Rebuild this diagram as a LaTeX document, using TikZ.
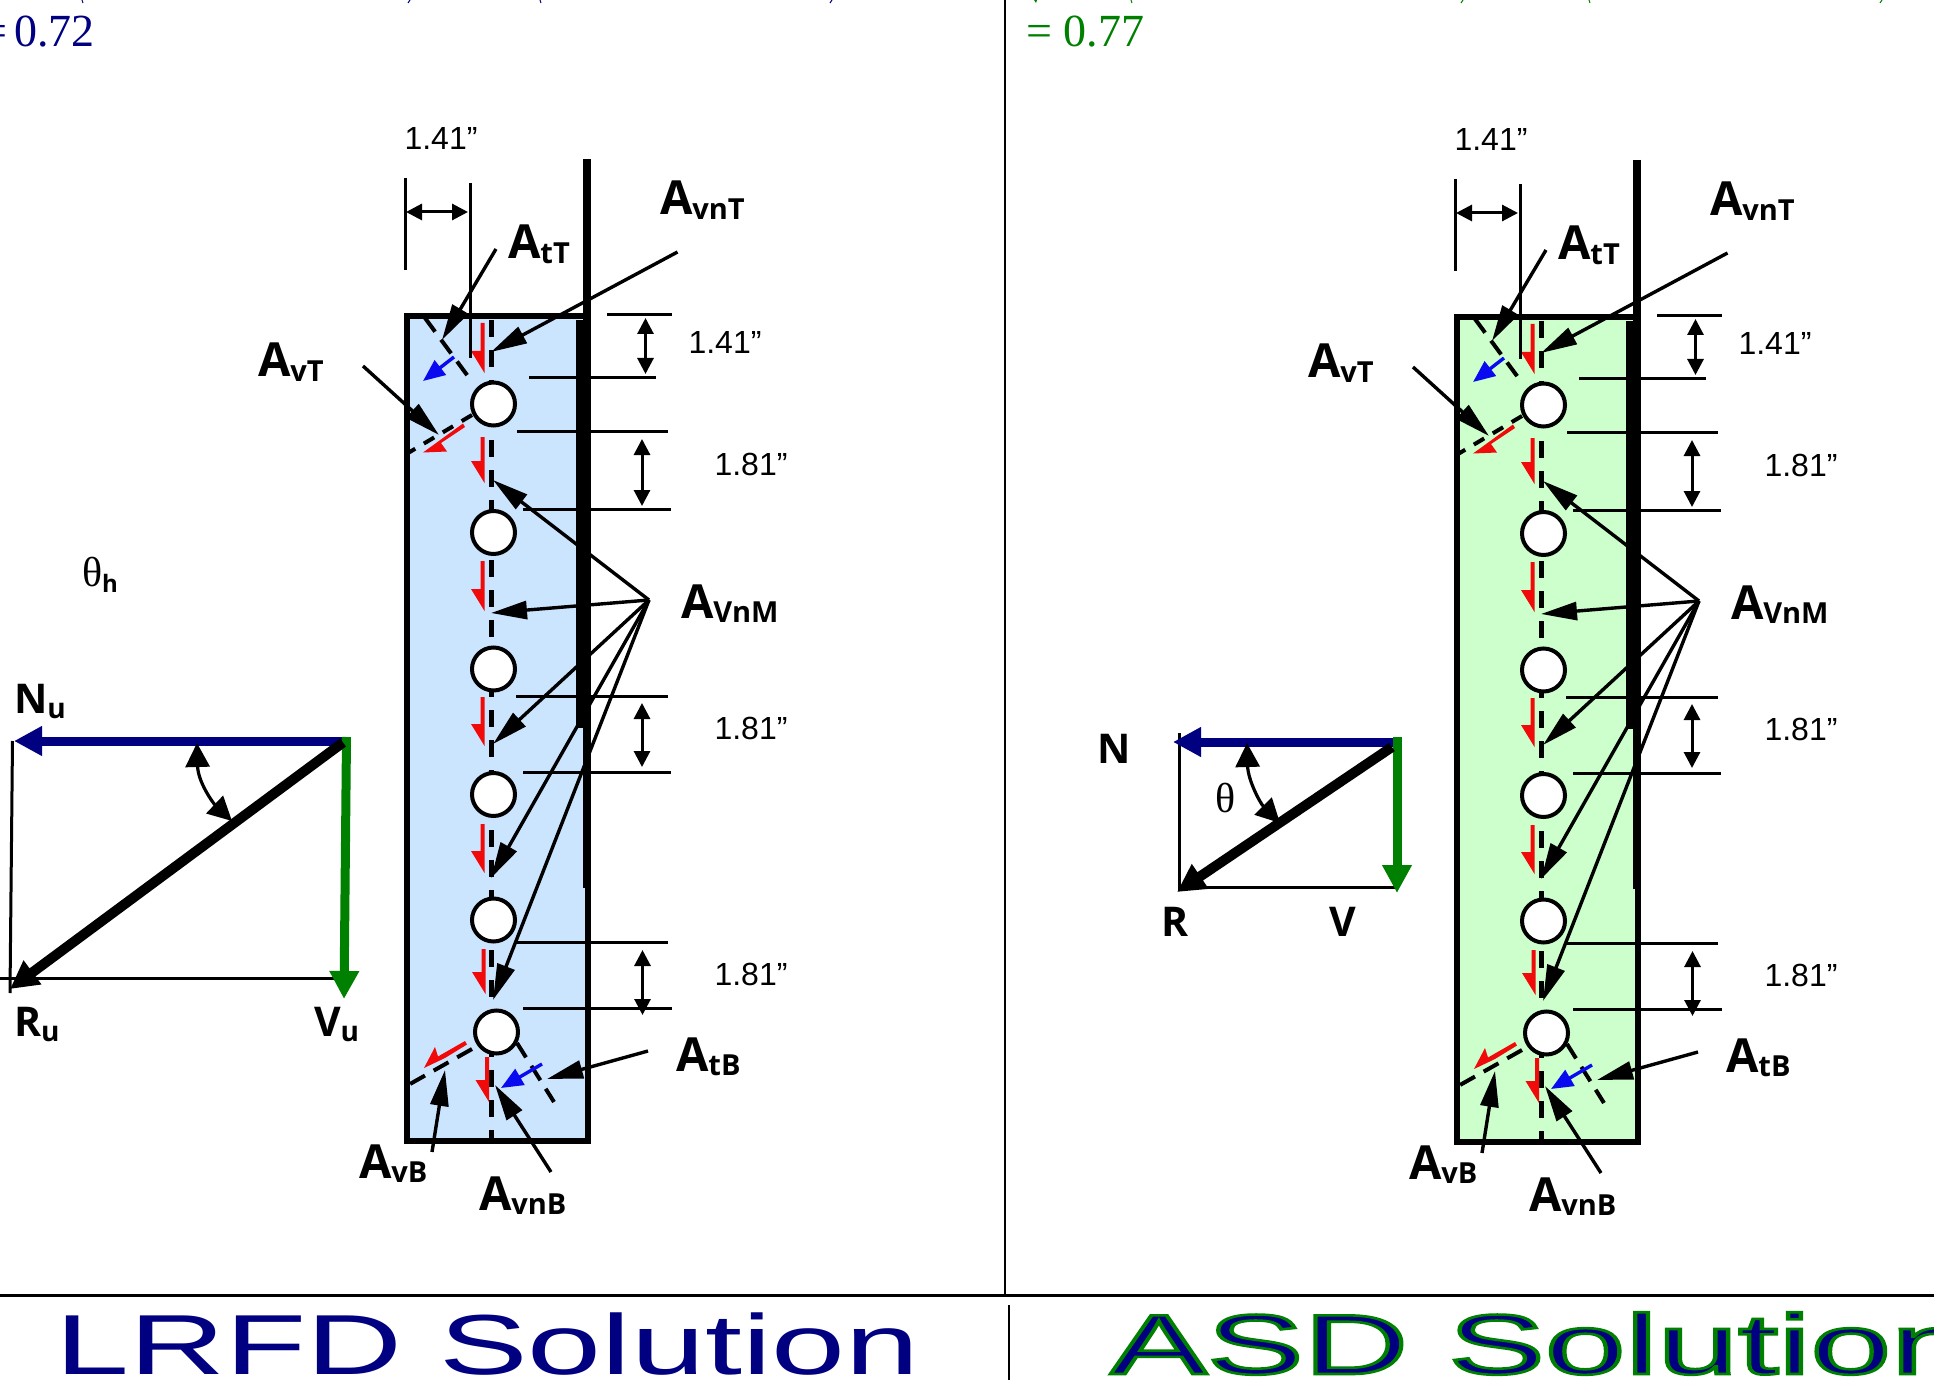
\documentclass[tikz,border=0pt]{standalone}
\usepackage{fontspec}
\usetikzlibrary{arrows.meta}
\setmainfont{Liberation Sans}
\newfontfamily\labfont{Open Sans}
\newfontfamily\serifnum{Liberation Serif}
\newfontfamily\titlestroke[FakeBold=3]{Liberation Sans}
\definecolor{navyc}{HTML}{000080}
\definecolor{greenc}{HTML}{008000}
\definecolor{panelblue}{HTML}{CCE5FF}
\definecolor{panelgreen}{HTML}{CCFFCC}
\definecolor{redc}{HTML}{F00A0A}
\definecolor{bluec}{HTML}{0A0AF0}
\newcommand{\lab}[2]{{\labfont\bfseries\fontsize{23.5}{23.5}\selectfont #1\raisebox{-2.4pt}{\fontsize{14.5}{14.5}\selectfont #2}}}
\newcommand{\labv}[2]{{\labfont\bfseries\fontsize{20.5}{20.5}\selectfont #1\raisebox{-2.5pt}{\fontsize{14}{14}\selectfont #2}}}
\newcommand{\redhalf}[3]{\fill[redc] (#1-2,#2) -- (#1+2,#2) -- (#1+2,#3) -- (#1-11.5,#3-22) -- (#1-2,#3-22) -- cycle;}
\tikzset{
  lbl/.style={anchor=base west,inner sep=0pt,outer sep=0pt},
  dimtxt/.style={anchor=center,inner sep=0pt,font=\fontsize{16}{16}\selectfont},
  hole/.style={circle,draw=black,fill=white,line width=2pt,minimum size=21.5pt,inner sep=0pt,outer sep=0pt},
  callout/.style={line width=1.7pt,-{Triangle[length=18pt,width=9pt]}},
  thinl/.style={line width=1.5pt},
  dimarrow/.style={line width=1.5pt,{Triangle[length=8pt,width=8pt]}-{Triangle[length=8pt,width=8pt]}},
  dashv/.style={line width=2.1pt,dash pattern=on 8.5pt off 6.5pt},
  dashd/.style={line width=2pt,dash pattern=on 8.5pt off 5pt},
  bluearrow/.style={line width=1.7pt,bluec,-{Triangle[length=11pt,width=9pt]}},
  outline/.style={line width=3.25pt},
  force/.style={line width=4.5pt,-{Triangle[length=14pt,width=14pt]}},
  anglearrow/.style={line width=1.6pt,{Triangle[length=12pt,width=12pt]}-{Triangle[length=12pt,width=12pt]}},
}
\newcommand{\panelbody}[1]{%
  % plate
  \fill[#1] (407,316) rectangle (588,1141);
  \fill[black] (576,320) rectangle (591,728);
  \coordinate (pt) at (587,159);
  \coordinate (pb) at (587,888);
  \draw[line width=4pt] (pt) -- (pb);
  \draw[outline] (407,316) rectangle (588,1141);
  % dashed lines
  \coordinate (vt) at (491.5,320);
  \coordinate (vb) at (491.5,1138);
  \draw[dashv] (vt) -- (vb);
  \coordinate (d1a) at (425,318); \coordinate (d1b) at (470,379);
  \draw[dashd] (d1a) -- (d1b);
  \coordinate (d2a) at (472,415); \coordinate (d2b) at (408,453);
  \draw[dashd,dash pattern=on 6pt off 5pt] (d2a) -- (d2b);
  \coordinate (d3a) at (472,1049); \coordinate (d3b) at (410,1084);
  \draw[dashd] (d3a) -- (d3b);
  \coordinate (d4a) at (517,1043); \coordinate (d4b) at (554,1102);
  \draw[dashd] (d4a) -- (d4b);
  % holes
  \node[hole] (h1) at (493.5,404) {};
  \node[hole] (h2) at (493.5,532.5) {};
  \node[hole] (h3) at (493.5,669) {};
  \node[hole] (h4) at (493.5,794.5) {};
  \node[hole] (h5) at (493.5,920) {};
  \node[hole] (h6) at (496.5,1032) {};
  % red shear arrows
  \redhalf{482.5}{323}{373}
  \redhalf{482.5}{437}{483}
  \redhalf{482.5}{561}{611}
  \redhalf{482.5}{697}{746}
  \redhalf{482.5}{824}{873}
  \redhalf{483.5}{949}{994}
  \redhalf{487}{1057}{1102}
  \fill[redc] (463,423.5) -- (465,427) -- (441,443) -- (447,451.5) -- (423,452.5) -- cycle;
  \fill[redc] (465,1041) -- (467,1044.5) -- (445,1058) -- (424,1068) -- (435,1047) -- (438,1056.5) -- cycle;
  % blue tension arrows
  \coordinate (b1a) at (454,357); \coordinate (b1b) at (423,381);
  \draw[bluearrow] (b1a) -- (b1b);
  \coordinate (b2a) at (542,1064); \coordinate (b2b) at (501,1088);
  \draw[bluearrow] (b2a) -- (b2b);
  % top dimension
  \coordinate (w1a) at (405,178); \coordinate (w1b) at (405,270);
  \coordinate (w2a) at (470,183); \coordinate (w2b) at (470,358);
  \draw[thinl] (w1a) -- (w1b);
  \draw[thinl] (w2a) -- (w2b);
  \coordinate (wa) at (406,212); \coordinate (wb) at (468,212);
  \draw[dimarrow] (wa) -- (wb);
  \node[dimtxt] (t0) at (441,138) {1.41”};
  % right dimensions
  \coordinate (e1a) at (607,314.5); \coordinate (e1b) at (672,314.5);
  \coordinate (e2a) at (529,378); \coordinate (e2b) at (656,378);
  \coordinate (e3a) at (517,431.5); \coordinate (e3b) at (668,431.5);
  \coordinate (e4a) at (523,509); \coordinate (e4b) at (671,509);
  \coordinate (e5a) at (516,696); \coordinate (e5b) at (668,696);
  \coordinate (e6a) at (523,772); \coordinate (e6b) at (671,772);
  \coordinate (e7a) at (517,942); \coordinate (e7b) at (668,942);
  \coordinate (e8a) at (523,1008); \coordinate (e8b) at (672,1008);
  \foreach \i in {1,...,8} {\draw[thinl] (e\i a) -- (e\i b);}
  \coordinate (f1a) at (645.5,318); \coordinate (f1b) at (645.5,374);
  \coordinate (f2a) at (642,439); \coordinate (f2b) at (642,506);
  \coordinate (f3a) at (642,703); \coordinate (f3b) at (642,767);
  \coordinate (f4a) at (642.5,950); \coordinate (f4b) at (642.5,1015);
  \foreach \i in {1,...,4} {\draw[dimarrow] (f\i a) -- (f\i b);}
  \node[dimtxt] (t1) at (725,342) {1.41”};
  \node[dimtxt] (t2) at (751,464) {1.81”};
  \node[dimtxt] (t3) at (751,728) {1.81”};
  \node[dimtxt] (t4) at (751,974) {1.81”};
  % labels
  \node[lbl] (avnt) at (660,215) {\lab{A}{vnT}};
  \node[lbl] (att) at (508,259) {\lab{A}{tT}};
  \node[lbl] (avt) at (258,377) {\lab{A}{vT}};
  \node[lbl] (avnm) at (681,618) {\lab{A}{VnM}};
  \node[lbl] (atb) at (676,1071) {\lab{A}{tB}};
  \node[lbl] (avb) at (359,1178) {\lab{A}{vB}};
  \node[lbl] (avnb) at (479,1210) {\lab{A}{vnB}};
  % callouts
  \coordinate (c1) at (496,249); \coordinate (c1t) at (442,340);
  \draw[callout] (c1) -- (c1t);
  \coordinate (c2) at (677.5,252); \coordinate (c2t) at (491,352);
  \draw[callout] (c2) -- (c2t);
  \coordinate (c3) at (363,366); \coordinate (c3t) at (439,435);
  \draw[callout] (c3) -- (c3t);
  \coordinate (m) at (649,600);
  \coordinate (m1) at (493,480); \coordinate (m2) at (491,613);
  \coordinate (m3) at (493,744); \coordinate (m4) at (491,878);
  \coordinate (m5) at (493,1000);
  \foreach \i in {1,...,5} {\draw[callout] (m) -- (m\i);}
  \coordinate (c4) at (648,1051); \coordinate (c4t) at (547,1079);
  \draw[callout] (c4) -- (c4t);
  \coordinate (c5) at (432,1152); \coordinate (c5t) at (445,1070);
  \draw[callout] (c5) -- (c5t);
  \coordinate (c6) at (551,1172); \coordinate (c6t) at (495,1085);
  \draw[callout] (c6) -- (c6t);
}
\begin{document}
\begin{tikzpicture}[x=0.5pt,y=-0.5pt]
\useasboundingbox (0,0) rectangle (1934,1380);
\fill[white] (0,0) rectangle (1934,1380);
% dividers
\coordinate (div1a) at (1005,0); \coordinate (div1b) at (1005,1295);
\draw[line width=1pt] (div1a) -- (div1b);
\coordinate (div2a) at (0,1295); \coordinate (div2b) at (1934,1295);
\draw[line width=1.5pt] (div2a) -- (div2b);
\coordinate (div3a) at (1009,1305); \coordinate (div3b) at (1009,1380);
\draw[line width=1pt] (div3a) -- (div3b);
% clipped remains of the upper equations
\draw[navyc,line width=.5pt] (82,0) -- (83,3) (408,3) -- (410,0) (540,0) -- (541,3) (830,3) -- (832,0);
\draw[greenc,line width=.5pt] (1131,0) -- (1132,3) (1461,3) -- (1463,0) (1589,0) -- (1590,3) (1880,3) -- (1882,0);
\fill[greenc] (1034,0) -- (1037,0) -- (1036,3) -- cycle;
% result lines
\node[anchor=base east,inner sep=0pt,text=navyc,font=\serifnum\fontsize{23}{23}\selectfont] (resl) at (95,47) {=\kern3.5pt 0.72};
\node[anchor=base west,inner sep=0pt,text=greenc,font=\serifnum\fontsize{23}{23}\selectfont] (resr) at (1026,47) {= 0.77};
% panels
\begin{scope}[name prefix=l-]
\panelbody{panelblue}
\end{scope}
\begin{scope}[name prefix=r-,shift={(1050,1)}]
\panelbody{panelgreen}
\end{scope}
% left force triangle
\coordinate (lna) at (347,741); \coordinate (lnb) at (14,741);
\coordinate (lva) at (346.5,737); \coordinate (lvb) at (344,999);
\coordinate (lra) at (343,742.5); \coordinate (lrb) at (10,989);
\coordinate (lta) at (12.5,741); \coordinate (ltb) at (10,993);
\coordinate (lha) at (0,978); \coordinate (lhb) at (339,978);
\draw[thinl] (lta) -- (ltb);
\draw[thinl] (lha) -- (lhb);
\draw[force,navyc] (lna) -- (lnb);
\draw[force,greenc] (lva) -- (lvb);
\draw[force,line width=5pt] (lra) -- (lrb);
\coordinate (laa) at (232,821); \coordinate (lab) at (197,743);
\draw[anglearrow] (laa) .. controls (213,803) and (198,782) .. (lab);
\node[lbl] (nu) at (14,713) {\labv{N}{u}};
\node[lbl] (ru) at (14,1036) {\labv{R}{u}};
\node[lbl] (vu) at (314,1036) {\labv{V}{u}};
\node[lbl] (thh) at (82,586) {{\serifnum\fontsize{21}{21}\selectfont θ}{\labfont\bfseries\raisebox{-3pt}{\fontsize{12}{12}\selectfont h}}};
% right force triangle
\coordinate (rna) at (1397,742); \coordinate (rnb) at (1173,742);
\coordinate (rva) at (1397,737); \coordinate (rvb) at (1397,893);
\coordinate (rra) at (1392,747); \coordinate (rrb) at (1177,892);
\coordinate (rta) at (1179,733); \coordinate (rtb) at (1179,890);
\coordinate (rha) at (1179,887); \coordinate (rhb) at (1397,887);
\draw[thinl] (rta) -- (rtb);
\draw[thinl] (rha) -- (rhb);
\draw[force,navyc] (rna) -- (rnb);
\draw[force,greenc] (rva) -- (rvb);
\draw[force,line width=5pt] (rra) -- (rrb);
\coordinate (raa) at (1280,823); \coordinate (rab) at (1247,743);
\draw[anglearrow] (raa) .. controls (1260,803) and (1248,780) .. (rab);
\node[lbl] (n) at (1097,763) {\labv{N}{}};
\node[lbl] (r) at (1161,936) {\labv{R}{}};
\node[lbl] (v) at (1329,936) {\labv{V}{}};
\node[anchor=center,inner sep=0pt,font=\serifnum\fontsize{21}{21}\selectfont] (th) at (1226,798) {θ};
% titles
\node[anchor=base west,inner sep=0pt,text=navyc] (lrfd) at (55,1374) {\scalebox{1.56}[1]{\fontsize{42.6}{42.6}\selectfont LRFD Solution}};
\node[anchor=base west,inner sep=0pt] (asd) at (1110,1374) {\scalebox{1.7}[1]{\color{greenc}\special{pdf: code 0 0 0.502 rg}\titlestroke\fontsize{42.6}{42.6}\selectfont ASD Solution}};
\end{tikzpicture}
\end{document}
